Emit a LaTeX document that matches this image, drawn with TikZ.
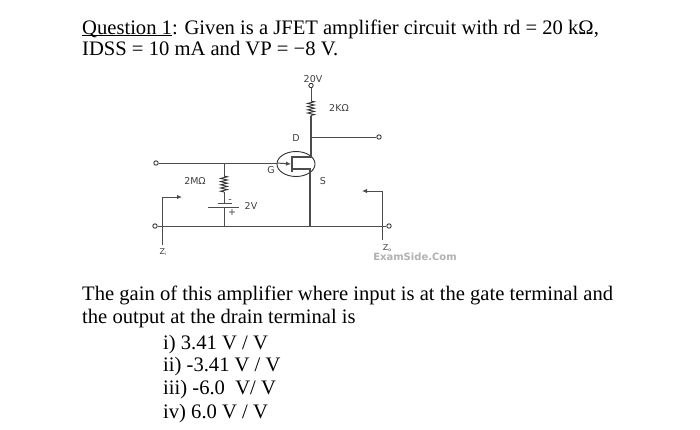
\documentclass[tikz,border=0pt]{standalone}
\usepackage{fontspec}
\setmainfont{Liberation Serif}
\newfontfamily\labfont{DejaVu Sans}
\usetikzlibrary{arrows.meta,decorations.pathmorphing,shapes.geometric}
\tikzset{x=1pt,y=-1pt,
 body/.style={anchor=base west,inner sep=0pt,font=\fontsize{20.6}{22}\selectfont},
 lab/.style={inner sep=0pt,font=\labfont\fontsize{9.5}{11}\selectfont,text=black!75},
 zlab/.style={inner sep=0pt,font=\labfont\fontsize{8}{9}\selectfont,text=black!75},
 wire/.style={draw=black!70,line width=1pt},
 thick wire/.style={draw=black!70,line width=1.15pt},
 term/.style={circle,draw=black!80,line width=0.9pt,fill=white,inner sep=0pt,minimum size=4.4pt},
 arr/.style={wire,-{Latex[length=5pt,width=4.5pt]}},
 res/.style={draw=black!80,line width=0.9pt,decorate,decoration={zigzag,amplitude=3.4pt,segment length=3.2pt}}}
\begin{document}
\begin{tikzpicture}
\useasboundingbox[fill=white] (0,0) rectangle (700,429);
\node[body] (q1) at (82,34) {\smash{\underline{\smash{Question 1}}}: Given is a JFET amplifier circuit with rd = 20 kΩ,};
\node[body] (q2) at (82,55) {IDSS = 10 mA and VP = −8 V.};
\node[body] (g1) at (82,300) {The gain of this amplifier where input is at the gate terminal and};
\node[body] (g2) at (82,323) {the output at the drain terminal is};
\node[body] (a1) at (163,349) {i) 3.41 V / V};
\node[body] (a2) at (163,371) {ii) -3.41 V / V};
\node[body] (a3) at (163,394) {iii) -6.0\ \ V/ V};
\node[body] (a4) at (163,418) {iv) 6.0 V / V};
% terminals
\node[term] (tin) at (156,163) {};
\node[term] (tgnd) at (155,226) {};
\node[term] (tvdd) at (311,85.5) {};
\node[term] (tout) at (379,137) {};
\node[term] (tgo) at (389,226) {};
\coordinate (gate) at (277,163);
\coordinate (jg) at (224,163);
\coordinate (rgt) at (224,176);
\coordinate (rgb) at (224,192);
\coordinate (bs) at (224,203);
\coordinate (bl) at (224,207);
\coordinate (jb) at (224,226);
\coordinate (rdt) at (311,101);
\coordinate (rdb) at (311,116);
\coordinate (jd) at (311,137);
\coordinate (dt) at (311,157);
\coordinate (sb) at (310,169);
\coordinate (js) at (310,226);
\coordinate (ch1) at (292,156);
\coordinate (ch2) at (292,172);
\coordinate (cs) at (292,169);
\coordinate (cd) at (292,157);
\coordinate (gi) at (291,164);
\node[draw=black!80,line width=0.9pt,ellipse,minimum width=38pt,minimum height=25pt,inner sep=0pt] (fet) at (296,164) {};
% wiring
\draw[wire] (tin) -- (gate);
\draw[wire] (jg) -- (rgt);
\draw[res] (rgt) -- (rgb);
\draw[wire] (rgb) -- (bs);
\draw[wire] (bl) -- (jb);
\draw[wire] (tgnd) -- (tgo);
\draw[wire] (tvdd) -- (rdt);
\draw[res] (rdt) -- (rdb);
\draw[thick wire] (rdb) -- (dt) -- (cd);
\draw[wire] (jd) -- (tout);
\draw[thick wire] (cs) -- (sb) -- (js);
\draw[thick wire] (ch1) -- (ch2);
\draw[arr] (gate) -- (gi);
% battery
\coordinate (bsl) at (218,203); \coordinate (bsr) at (232,203);
\coordinate (bll) at (208,207); \coordinate (blr) at (239,207);
\draw[wire] (bsl) -- (bsr);
\draw[wire] (bll) -- (blr);
% Z arrows
\coordinate (zib) at (162,245); \coordinate (zit) at (162,197); \coordinate (zia) at (182,197);
\draw[arr] (zib) -- (zit) -- (zia);
\coordinate (zob) at (382,240); \coordinate (zot) at (382,191); \coordinate (zoa) at (362,191);
\draw[arr] (zob) -- (zot) -- (zoa);
% labels
\node[lab] (l20) at (313,79) {20V};
\node[lab] (l2k) at (339,108) {2KΩ};
\node[lab] (lD) at (296,138) {D};
\node[lab] (lG) at (271,170) {G};
\node[lab] (lS) at (323,181) {S};
\node[lab] (l2m) at (195,181) {2MΩ};
\node[lab] (l2v) at (251,206) {2V};
\node[lab] (lm) at (230,201) {-};
\node[lab] (lp) at (232,213) {+};
\node[zlab] (lzi) at (163,252) {Z\raisebox{-1pt}{\fontsize{4.5}{5}\selectfont i}};
\node[zlab] (lzo) at (387,248) {Z\raisebox{-1pt}{\fontsize{4.5}{5}\selectfont o}};
\node[inner sep=0pt,font=\labfont\bfseries\fontsize{10}{11}\selectfont,text=black!30] (ex) at (415,257) {ExamSide.Com};
\end{tikzpicture}
\end{document}
